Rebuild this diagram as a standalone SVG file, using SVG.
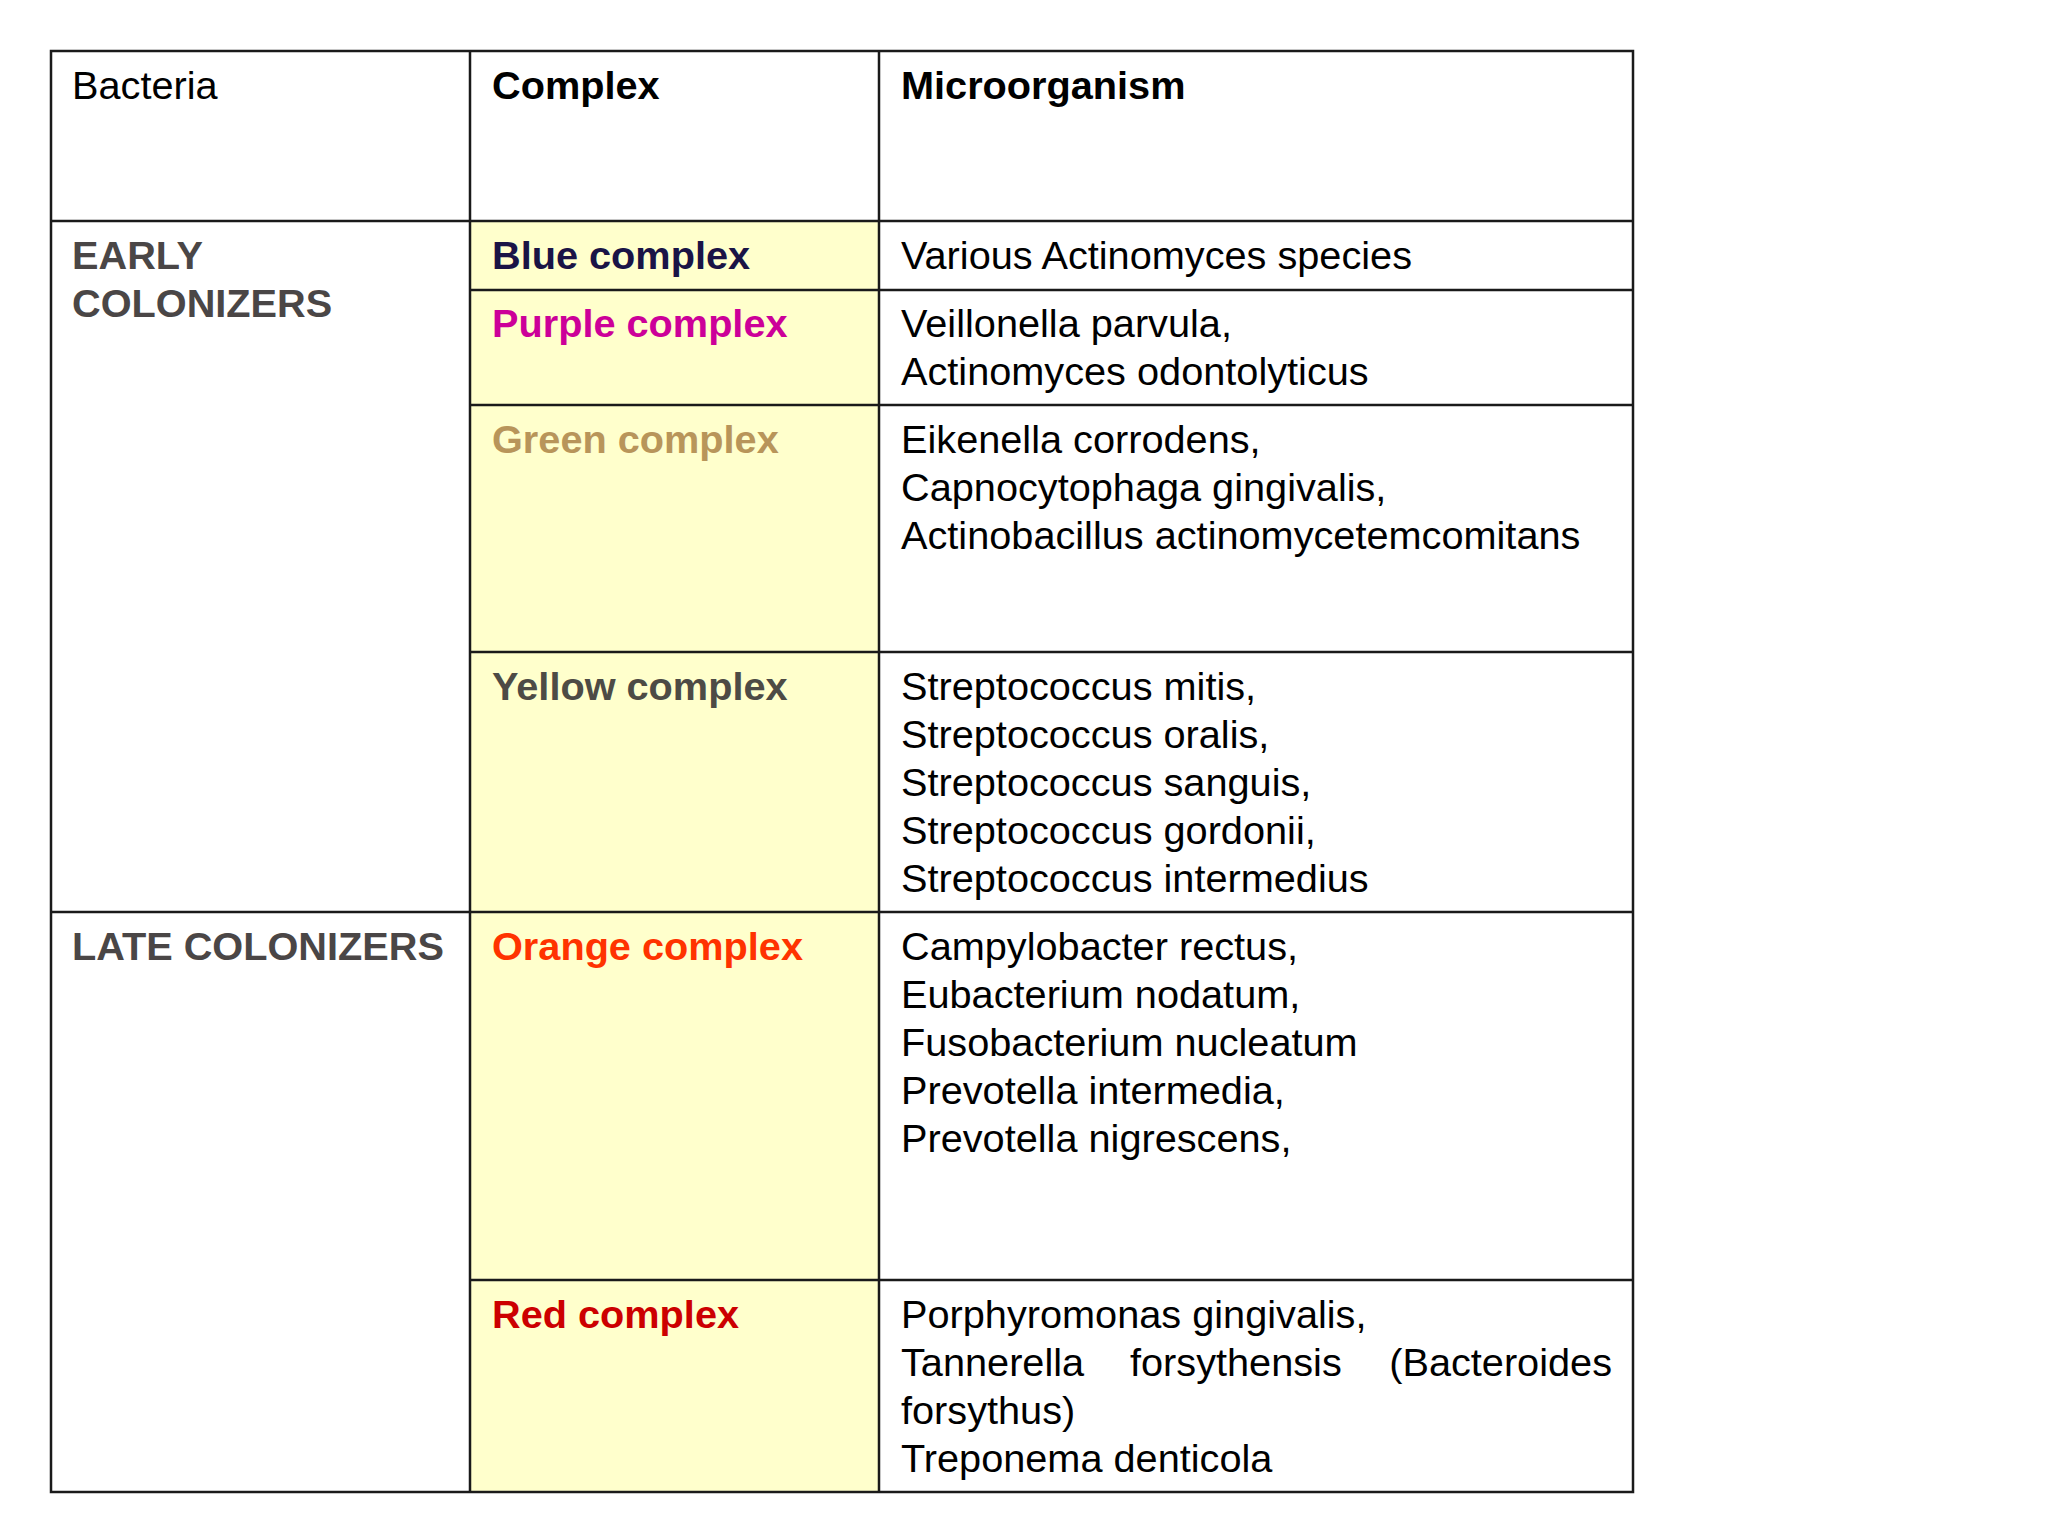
<svg xmlns="http://www.w3.org/2000/svg" width="2048" height="1536" viewBox="0 0 2048 1536">
<style>
text{font-family:"Liberation Sans",Arial,sans-serif;font-size:39.7px;fill:#000}
.b{font-weight:bold}
.g{fill:#4a4646;font-weight:bold}
line{stroke:#1a1a1a;stroke-width:2.5}
</style>
<rect width="2048" height="1536" fill="#fff"/>
<rect x="470" y="221" width="409" height="1271" fill="#ffffcc"/>
<g id="grid">
<rect x="51" y="51" width="1582" height="1441" fill="none" stroke="#1a1a1a" stroke-width="2.5"/>
<line x1="470" y1="51" x2="470" y2="1492"/>
<line x1="879" y1="51" x2="879" y2="1492"/>
<line x1="51" y1="221" x2="1633" y2="221"/>
<line x1="470" y1="290" x2="1633" y2="290"/>
<line x1="470" y1="405" x2="1633" y2="405"/>
<line x1="470" y1="652" x2="1633" y2="652"/>
<line x1="51" y1="912" x2="1633" y2="912"/>
<line x1="470" y1="1280" x2="1633" y2="1280"/>
</g>
<g id="header">
<text x="72" y="99">Bacteria</text>
<text x="492" y="99" class="b">Complex</text>
<text x="901" y="99" class="b">Microorganism</text>
</g>
<g id="early">
<text x="72" y="269" class="g">EARLY</text>
<text x="72" y="317" class="g">COLONIZERS</text>
</g>
<g id="late"><text x="72" y="960" class="g">LATE COLONIZERS</text></g>
<g id="blue"><text x="492" y="269" class="b" style="fill:#1a1446">Blue complex</text>
<text x="901" y="269">Various Actinomyces species</text></g>
<g id="purple"><text x="492" y="337" class="b" style="fill:#cc0099">Purple complex</text>
<text x="901" y="337">Veillonella parvula,</text><text x="901" y="385">Actinomyces odontolyticus</text></g>
<g id="green"><text x="492" y="453" class="b" style="fill:#b8955a">Green complex</text>
<text x="901" y="453">Eikenella corrodens,</text><text x="901" y="501">Capnocytophaga gingivalis,</text><text x="901" y="549">Actinobacillus actinomycetemcomitans</text></g>
<g id="yellow"><text x="492" y="700" class="b" style="fill:#4d4b45">Yellow complex</text>
<text x="901" y="700">Streptococcus mitis,</text><text x="901" y="748">Streptococcus oralis,</text><text x="901" y="796">Streptococcus sanguis,</text><text x="901" y="844">Streptococcus gordonii,</text><text x="901" y="892">Streptococcus intermedius</text></g>
<g id="orange"><text x="492" y="960" class="b" style="fill:#ff3300">Orange complex</text>
<text x="901" y="960">Campylobacter rectus,</text><text x="901" y="1008">Eubacterium nodatum,</text><text x="901" y="1056">Fusobacterium nucleatum</text><text x="901" y="1104">Prevotella intermedia,</text><text x="901" y="1152">Prevotella nigrescens,</text></g>
<g id="red"><text x="492" y="1328" class="b" style="fill:#cc0000">Red complex</text>
<text x="901" y="1328">Porphyromonas gingivalis,</text>
<text x="901" y="1376">Tannerella</text><text x="1130" y="1376">forsythensis</text><text x="1612" y="1376" text-anchor="end">(Bacteroides</text>
<text x="901" y="1424">forsythus)</text><text x="901" y="1472">Treponema denticola</text></g>
</svg>
